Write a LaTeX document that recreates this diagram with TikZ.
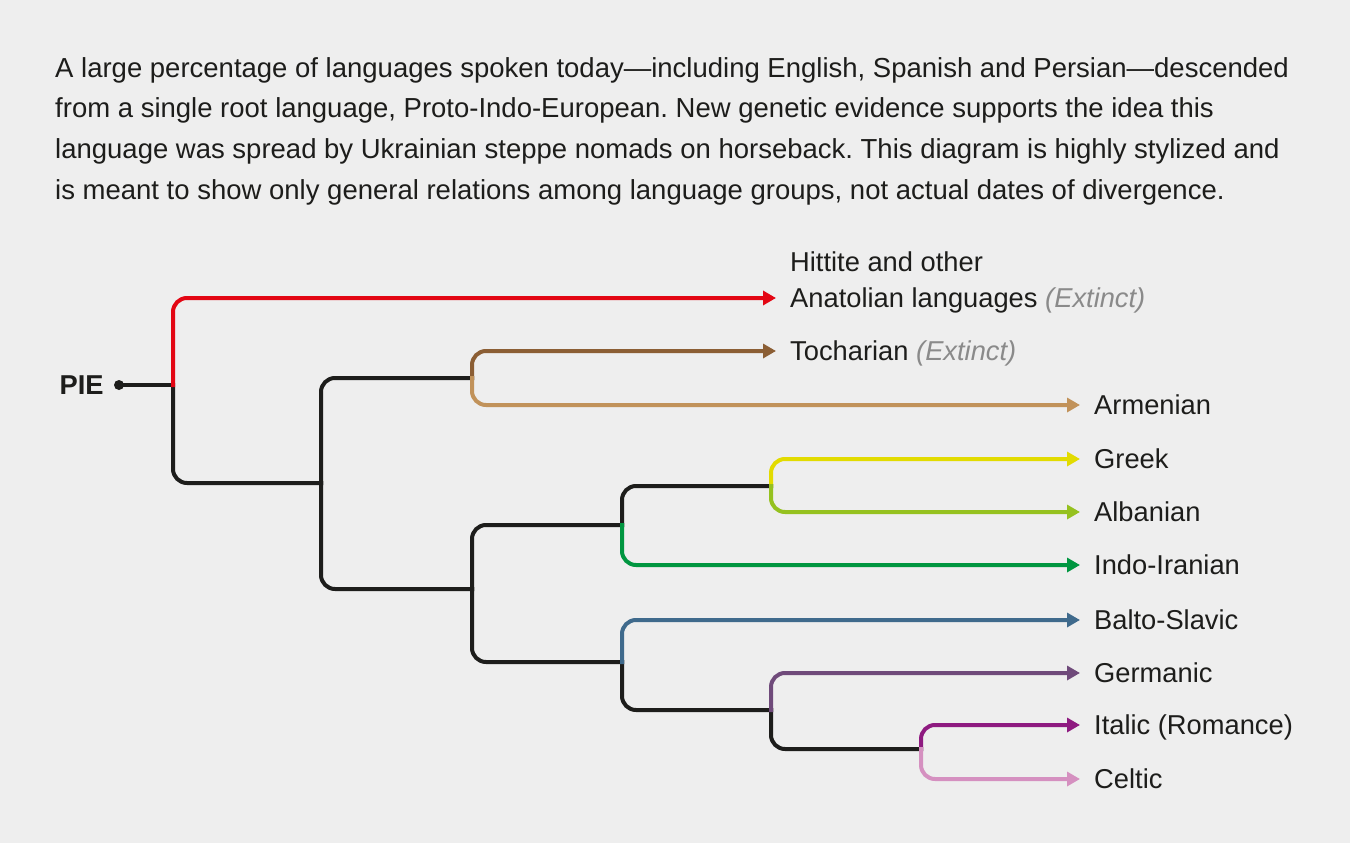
\documentclass[tikz,border=0pt]{standalone}
\usepackage{fontspec}
\setmainfont{Liberation Sans}
\usepackage{tikz}
\usetikzlibrary{arrows.meta,positioning}
\definecolor{bggray}{HTML}{EEEEEE}
\definecolor{bodytext}{HTML}{1D1D1B}
\definecolor{extinctgray}{HTML}{8A8A8A}
\definecolor{stemblack}{HTML}{1D1D1B}
\definecolor{anatolianred}{HTML}{E30613}
\definecolor{tochariandark}{HTML}{8B5E34}
\definecolor{armenianlight}{HTML}{C1925A}
\definecolor{greekyellow}{HTML}{E2DB00}
\definecolor{albaniangreen}{HTML}{95C11F}
\definecolor{iraniangreen}{HTML}{009640}
\definecolor{slavicblue}{HTML}{3F6A8C}
\definecolor{germanicpurple}{HTML}{6F4A7A}
\definecolor{italicmagenta}{HTML}{8E1A80}
\definecolor{celticpink}{HTML}{D590C0}
\newcommand{\extinct}{\textit{\color{extinctgray}(Extinct)}}
\frenchspacing

\begin{document}
\begin{tikzpicture}[
    x=1pt, y=-1pt,
    intro/.style={
        anchor=north west,
        inner sep=0pt,
        align=left,
        text=bodytext,
        font=\fontsize{27.5}{40.7}\selectfont
    },
    lang/.style={
        anchor=west,
        inner sep=0pt,
        text height=19.5pt,
        text depth=0pt,
        text=bodytext,
        font=\fontsize{27.3}{32}\selectfont
    },
    rootdot/.style={
        circle,
        fill=stemblack,
        inner sep=0pt,
        minimum size=10pt
    },
    branch/.style={
        line width=4pt,
        line cap=rect,
        rounded corners=14pt,
        color=stemblack
    },
    leafarrow/.style={
        branch,
        -{Triangle[length=13pt, width=14pt]},
        shorten >=14pt
    }
]
    % Background and frame
    \useasboundingbox[fill=bggray] (0,0) rectangle (1350,843);

    % Intro text
    \node[intro] (intro) at (55,57) {A large percentage of languages spoken today---including English, Spanish and Persian---descended\\
        from a single root language, Proto-Indo-European. New genetic evidence supports the idea this\\
        language was spread by Ukrainian steppe nomads on horseback. This diagram is highly stylized and\\
        is meant to show only general relations among language groups, not actual dates of divergence.};

    % Root
    \node[rootdot] (root) at (119,385) {};
    \node[lang, anchor=east, font=\fontsize{27.3}{32}\selectfont\bfseries, left=10pt of root] (pie) {PIE};

    % Language groups
    \node[lang] (anatolian) at (790,298) {Anatolian languages \extinct};
    \node[lang, above right=16pt and 0pt of anatolian.north west] (hittite) {Hittite and other};
    \node[lang] (tocharian) at (790,351) {Tocharian \extinct};
    \node[lang] (armenian) at (1094,405) {Armenian};
    \node[lang] (greek) at (1094,459) {Greek};
    \node[lang] (albanian) at (1094,512) {Albanian};
    \node[lang] (indoiranian) at (1094,565) {Indo-Iranian};
    \node[lang] (baltoslavic) at (1094,620) {Balto-Slavic};
    \node[lang] (germanic) at (1094,673) {Germanic};
    \node[lang] (italic) at (1094,725) {Italic (Romance)};
    \node[lang] (celtic) at (1094,779) {Celtic};

    % Junctions
    \coordinate (j1) at (173,385);
    \coordinate (j2) at (321,483);
    \coordinate (j3) at (472,378);
    \coordinate (j4) at (472,589);
    \coordinate (j5) at (622,525);
    \coordinate (j6) at (622,662);
    \coordinate (j7) at (771,486);
    \coordinate (j8) at (771,710);
    \coordinate (j9) at (921,749);

    % Stems
    \draw[branch] (root.center) -- (j1);
    \draw[branch] (j1) |- (j2);
    \draw[branch] (j2) |- (j3);
    \draw[branch] (j2) |- (j4);
    \draw[branch] (j4) |- (j5);
    \draw[branch] (j4) |- (j6);
    \draw[branch] (j5) |- (j7);
    \draw[branch] (j6) |- (j8);
    \draw[branch] (j8) |- (j9);

    % Branches
    \draw[leafarrow, color=anatolianred] (j1) |- (anatolian.west);
    \draw[leafarrow, color=tochariandark] (j3) |- (tocharian.west);
    \draw[leafarrow, color=armenianlight] (j3) |- (armenian.west);
    \draw[leafarrow, color=greekyellow] (j7) |- (greek.west);
    \draw[leafarrow, color=albaniangreen] (j7) |- (albanian.west);
    \draw[leafarrow, color=iraniangreen] (j5) |- (indoiranian.west);
    \draw[leafarrow, color=slavicblue] (j6) |- (baltoslavic.west);
    \draw[leafarrow, color=germanicpurple] (j8) |- (germanic.west);
    \draw[leafarrow, color=italicmagenta] (j9) |- (italic.west);
    \draw[leafarrow, color=celticpink] (j9) |- (celtic.west);
\end{tikzpicture}
\end{document}
